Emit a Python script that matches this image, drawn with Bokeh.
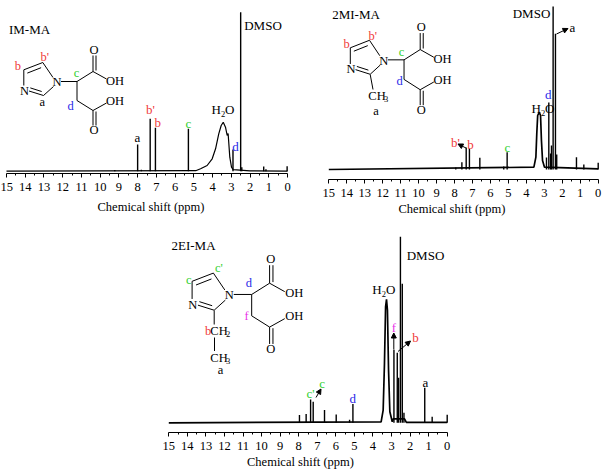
from bokeh.plotting import figure
from bokeh.models import Range1d, FixedTicker, Arrow, NormalHead, ColumnDataSource, Spacer
from bokeh.layouts import column, row
from bokeh.core.properties import value
from bokeh.embed import file_html
from bokeh.resources import INLINE

# ---------------- data ----------------
TICKS = list(range(0, 16))
MINOR_TICKS = [t + 0.5 for t in range(15)]
X_LABEL = "Chemical shift (ppm)"

# IM-MA : smooth part of the trace (baseline + broad water hump) and sharp lines
im_curve_ppm = [15.0, 4.9, 4.64, 4.29, 4.02, 3.84, 3.67, 3.54, 3.43, 3.31, 3.22, 3.17, 3.08, 2.99, 2.9, 2.0, 0.0]
im_curve_int = [0.0, 0.5, 2.4, 5.7, 12.4, 22.4, 37.4, 45.7, 49.0, 44.0, 35.7, 37.7, 14.0, 4.0, 1.5, 0.3, 0.0]
im_peak_ppm = [9.22, 8.00, 7.80, 7.33, 7.05, 5.29, 2.91, 2.50, 2.44, 1.27, 1.15, 0.02]
im_peak_int = [1.2, 26.7, 1.5, 52.4, 43.4, 42.4, 21.7, 159.0, 4.0, 4.7, 2.0, 5.0]

# 2MI-MA
mi_curve_ppm = [15.0, 3.58, 3.47, 3.42, 3.37, 3.28, 3.21, 3.16, 3.10, 2.99, 0.0]
mi_curve_int = [0.0, 2.3, 12.3, 35.7, 54.0, 57.3, 54.0, 29.0, 9.0, 2.3, 0.7]
mi_peak_ppm = [7.93, 7.59, 7.35, 7.17, 6.59, 5.26, 5.07, 2.88, 2.75, 2.65, 2.60, 2.51, 2.38, 2.31, 1.21, 0.80, 0.00]
mi_peak_int = [2.0, 7.3, 22.0, 21.0, 11.7, 3.0, 17.3, 12.0, 67.0, 16.0, 24.0, 168.0, 135.7, 15.0, 12.3, 5.0, 6.7]

# 2EI-MA
ei_curve_ppm = [15.0, 3.56, 3.45, 3.38, 3.32, 3.27, 3.22, 3.16, 3.09, 2.96, 2.90, 2.30, 2.20, 0.0]
ei_curve_int = [0.0, 1.0, 12.7, 59.4, 116.0, 123.4, 112.7, 52.7, 11.0, 1.0, 4.0, 4.0, 0.5, 0.5]
ei_peak_ppm = [7.96, 7.60, 7.36, 7.22, 6.61, 5.98, 5.26, 5.08, 2.87, 2.69, 2.62, 2.52, 2.42, 2.33, 1.21, 0.81, 0.00]
ei_peak_int = [7.7, 8.7, 23.3, 21.0, 12.7, 8.3, 3.0, 18.7, 73.0, 70.0, 45.0, 186.0, 139.0, 10.0, 35.0, 6.0, 8.0]

# ---------------- styles / geometry ----------------
FONT = "Liberation Serif"
BLACK = "#000000"
RED = "#f03a3a"
GREEN = "#30d030"
BLUE = "#2828e8"
MAGENTA = "#e832e8"
T = "13px"
S = "12.5px"
SUB = "8.5px"

# shared skeleton drawing (imidazole + succinic acid), in IM-MA picture coordinates
SKEL_ANCHOR = (93.3, 49.3)
SKEL_BONDS = [
    (23.3, 69.3, 42.3, 62.0), (26.8, 72.6, 40.6, 67.2),
    (42.3, 62.0, 52.5, 77.0), (53.0, 86.0, 43.0, 95.0),
    (43.0, 95.0, 28.5, 90.5), (41.2, 91.0, 29.8, 87.4),
    (23.3, 85.0, 23.3, 69.3), (60.5, 81.0, 76.5, 81.0),
    (76.5, 81.0, 92.5, 71.0), (92.5, 71.0, 92.5, 55.0),
    (95.5, 70.0, 95.5, 55.0), (92.5, 71.0, 106.0, 78.5),
    (76.5, 81.0, 76.5, 100.0), (76.5, 100.0, 92.5, 110.0),
    (92.5, 110.0, 106.0, 102.5), (92.5, 110.0, 92.5, 125.0),
    (95.5, 111.0, 95.5, 125.0),
]
SKEL_LABELS = [("N", 56.5, 81.8), ("N", 24.0, 90.0), ("O", 93.5, 49.5),
               ("OH", 114.5, 80.0), ("OH", 114.5, 100.5), ("O", 93.5, 129.5)]


def skel(ox, oy, kx, ky):
    ax, ay = SKEL_ANCHOR
    tx = lambda x: ox + (x - ax) * kx
    ty = lambda y: oy + (y - ay) * ky
    bonds = [(tx(a), ty(b), tx(c), ty(d)) for a, b, c, d in SKEL_BONDS]
    labels = [(t, tx(x), ty(y), BLACK, S) for t, x, y in SKEL_LABELS]
    return bonds, labels


def make_panel(width, height, left, top, axis_y, ppm15_x, ppm0_x, base_y, label_standoff):
    frame_h = round(axis_y - top)
    right = left + width
    axis_y = top + frame_h
    k = 15.0 / (ppm0_x - ppm15_x)
    xr = Range1d(start=15 + (ppm15_x - left) * k, end=-(right - ppm0_x) * k)
    yr = Range1d(start=-(axis_y - base_y), end=base_y - top)
    p = figure(width=width, height=height, x_range=xr, y_range=yr, y_axis_location=None,
               toolbar_location=None, output_backend="svg")
    p.min_border_left = 0
    p.min_border_right = 0
    p.min_border_top = 0
    p.min_border_bottom = height - frame_h
    p.extra_x_ranges = {"px": Range1d(left, right)}
    p.extra_y_ranges = {"px": Range1d(axis_y, top)}
    p.xgrid.visible = False
    p.ygrid.visible = False
    p.outline_line_color = None
    p.background_fill_color = "white"
    p.border_fill_color = "white"
    ax = p.xaxis[0]
    ax.ticker = FixedTicker(ticks=TICKS, minor_ticks=MINOR_TICKS)
    ax.bounds = (0, 15)
    ax.axis_label = X_LABEL
    ax.axis_label_text_font = FONT
    ax.axis_label_text_font_style = "normal"
    ax.axis_label_text_font_size = "12.5px"
    ax.axis_label_text_color = BLACK
    ax.axis_label_standoff = label_standoff
    ax.major_label_text_font = FONT
    ax.major_label_text_font_size = "12.5px"
    ax.major_label_text_color = BLACK
    ax.major_label_standoff = 5
    ax.major_tick_out = 4
    ax.major_tick_in = 0
    ax.minor_tick_out = 2
    ax.minor_tick_in = 0
    ax.axis_line_color = BLACK
    ax.major_tick_line_color = BLACK
    ax.minor_tick_line_color = BLACK
    return p


def draw_spectrum(p, cppm, cint, pppm, pint, base_w):
    p.line(cppm, cint, line_color=BLACK, line_width=base_w)
    p.segment(x0=pppm, y0=[0] * len(pppm), x1=pppm, y1=pint, line_color=BLACK, line_width=1.4)


def draw_texts(p, items):
    src = ColumnDataSource(dict(
        text=[i[0] for i in items], x=[i[1] for i in items], y=[i[2] for i in items],
        color=[i[3] for i in items], size=[i[4] for i in items]))
    p.text(x="x", y="y", text="text", text_color="color", text_font_size="size",
           text_font=value(FONT), text_align="center", text_baseline="middle",
           source=src, x_range_name="px", y_range_name="px")


def draw_bonds(p, bonds):
    p.segment(x0=[b[0] for b in bonds], y0=[b[1] for b in bonds],
              x1=[b[2] for b in bonds], y1=[b[3] for b in bonds],
              line_color=BLACK, line_width=1.0, x_range_name="px", y_range_name="px")


def draw_arrow(p, x0, y0, x1, y1):
    p.add_layout(Arrow(end=NormalHead(size=5, fill_color=BLACK, line_color=BLACK, line_width=1),
                       x_start=x0, y_start=y0, x_end=x1, y_end=y1, line_color=BLACK,
                       line_width=1, x_range_name="px", y_range_name="px"))


def h2o(cx, cy):
    return [("H", cx - 6.8, cy, BLACK, T), ("2", cx, cy + 4, BLACK, SUB), ("O", cx + 6.8, cy, BLACK, T)]


# ---------------- panel 1 : IM-MA ----------------
p1 = make_panel(301, 218, 0, 0, 172.7, 6.0, 287.0, 170.7, 6)
draw_spectrum(p1, im_curve_ppm, im_curve_int, im_peak_ppm, im_peak_int, 1.2)
b1, l1 = skel(93.3, 49.3, 1.0, 1.0)
draw_bonds(p1, b1)
draw_texts(p1, l1 + [
    ("IM-MA", 29, 29, BLACK, T), ("DMSO", 262.5, 25, BLACK, T),
    ("a", 137, 136.5, BLACK, T), ("b'", 150, 109, RED, T), ("b", 157.3, 122, RED, T),
    ("c", 188, 122.5, GREEN, T), ("d", 235, 145.5, BLUE, T),
    ("b", 17.3, 65, RED, S), ("b'", 44.3, 56, RED, S), ("c", 76, 72.3, GREEN, S),
    ("d", 70, 105, BLUE, S), ("a", 41.7, 101.5, BLACK, S),
] + h2o(222.5, 109))

# ---------------- panel 2 : 2MI-MA (sits 6 px lower than panel 1) ----------------
P2_DROP = 6
p2 = make_panel(301, 218, 301, P2_DROP, 179.0, 328.3, 597.7, 169.0, 2)
draw_spectrum(p2, mi_curve_ppm, mi_curve_int, mi_peak_ppm, mi_peak_int, 1.7)
b2, l2 = skel(420.5, 26.7, 1.01, 1.03)
draw_bonds(p2, b2 + [(369.7, 74.0, 372.5, 89.0)])
draw_texts(p2, l2 + [
    ("2MI-MA", 355.5, 14, BLACK, T), ("DMSO", 531, 12.5, BLACK, T),
    ("d", 547.7, 93.5, BLUE, T), ("b'", 455, 141.5, RED, T), ("b", 470, 144, RED, T),
    ("c", 507, 146.5, GREEN, T), ("a", 572, 27, BLACK, T),
    ("b", 346, 43.3, RED, S), ("b'", 372.3, 35, RED, S), ("c", 401, 51.7, GREEN, S),
    ("d", 399, 80, BLUE, S), ("CH", 376.5, 95.5, BLACK, S), ("3", 385.5, 98.5, BLACK, SUB),
    ("a", 375.5, 110, BLACK, S),
] + h2o(542.5, 108))
draw_arrow(p2, 465.5, 147.5, 457.5, 143.5)
draw_arrow(p2, 556, 33.5, 567.5, 28)

# ---------------- panel 3 : 2EI-MA ----------------
P3_LEFT = 128
p3 = make_panel(344, 248, P3_LEFT, 224, 432.3, 168.3, 446.7, 422.3, 2)
draw_spectrum(p3, ei_curve_ppm, ei_curve_int, ei_peak_ppm, ei_peak_int, 1.7)
b3, l3 = skel(270.0, 258.3, 1.12, 1.125)
draw_bonds(p3, b3 + [(213.7, 310.0, 213.7, 324.0), (214.0, 337.0, 214.0, 350.5)])
draw_texts(p3, l3 + [
    ("2EI-MA", 193, 245, BLACK, T), ("DMSO", 425, 255, BLACK, T),
    ("f", 393.3, 326.5, MAGENTA, T), ("b", 415, 337.3, RED, T), ("a", 425, 381.7, BLACK, T),
    ("d", 352.3, 398.3, BLUE, T), ("c'", 310, 392.7, GREEN, T), ("c", 321.7, 383.3, GREEN, T),
    ("c", 188.3, 279.3, GREEN, S), ("c'", 218.3, 267.3, GREEN, S), ("d", 248.3, 282.7, BLUE, S),
    ("f", 246, 315, MAGENTA, S), ("b", 207.7, 330, RED, S),
    ("CH", 218.5, 330, BLACK, S), ("2", 227.5, 333, BLACK, SUB),
    ("CH", 218.5, 357, BLACK, S), ("3", 227.5, 360, BLACK, SUB),
    ("a", 220, 369, BLACK, S),
] + h2o(383.3, 289.3))
draw_arrow(p3, 393.3, 349, 393.3, 332.5)
draw_arrow(p3, 397.5, 351, 410, 340.5)
draw_arrow(p3, 315.5, 397, 320.5, 388.5)

top = row(column(p1, Spacer(width=301, height=P2_DROP)),
          column(Spacer(width=301, height=P2_DROP), p2))
bottom = row(Spacer(width=P3_LEFT, height=248), p3)
layout = column(top, bottom)

with open("out.html", "w") as f:
    f.write(file_html(layout, INLINE))
